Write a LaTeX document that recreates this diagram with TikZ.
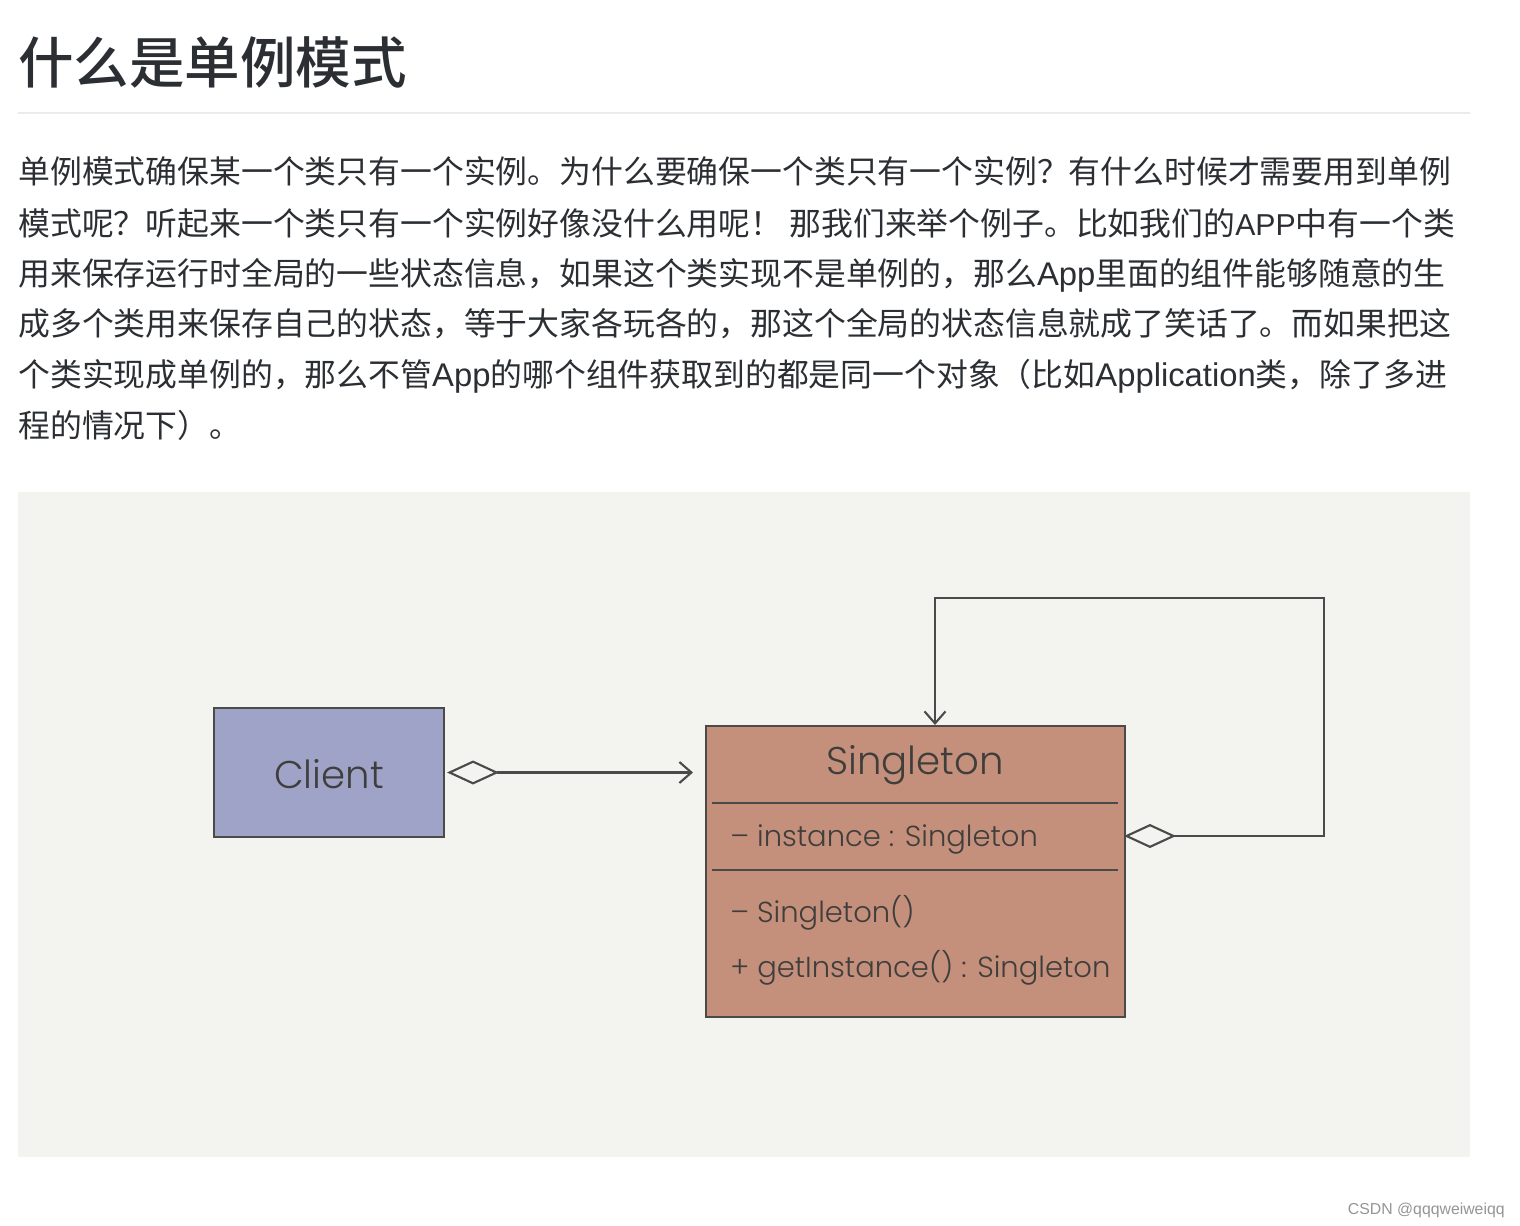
\documentclass[tikz,border=0pt]{standalone}
\usepackage{fontspec}
\usetikzlibrary{arrows.meta}
\setmainfont{Noto Sans CJK SC}
\newfontfamily\titrefont{Noto Sans CJK SC Medium}
\newfontfamily\handfont{Poppins Light}
\newfontfamily\markfont{Liberation Sans}
\newfontfamily\latfont[Scale=1.03]{Liberation Sans}
\newfontfamily\capfont[Scale=0.95]{Liberation Sans}
\definecolor{fondgris}{HTML}{F3F4F0}
\definecolor{bleuclient}{HTML}{9FA3C8}
\definecolor{rougeclasse}{HTML}{C4907B}
\definecolor{trait}{HTML}{4A4A48}
\definecolor{plume}{HTML}{403E3C}
\definecolor{encre}{HTML}{2B2F33}
\begin{document}
\begin{tikzpicture}[x=0.02cm,y=-0.02cm]
        \tikzstyle{ligne}=[anchor=base west,inner sep=0pt,text=encre,font=\fontsize{18.12pt}{22pt}\selectfont]
        \tikzstyle{classe}=[draw=trait,line width=1.2pt,inner sep=0pt]
        \tikzstyle{membre}=[anchor=base west,inner sep=0pt,text=plume,font=\handfont\fontsize{16.5pt}{20pt}\selectfont]
        \tikzstyle{nom}=[anchor=base,inner sep=0pt,text=plume,font=\handfont\fontsize{22pt}{26pt}\selectfont]
        \tikzstyle{lien}=[draw=trait,line width=1.2pt,{Diamond[open,length=1.04cm,width=0.48cm]}-{Straight Barb[length=0.24cm,width=0.42cm]}]
        \useasboundingbox (0,0) rectangle (1520,1226);
        \fill[fondgris] (18,492) rectangle (1470,1157);
        \node[anchor=base west,inner sep=0pt,text=encre,font=\titrefont\fontsize{31.6pt}{36pt}\selectfont] (titre) at (18,84) {什么是单例模式};
        \draw[color=black!8,line width=1.1pt] (18,113) -- (1470,113);
        \node[ligne] (l1) at (18,184) {单例模式确保某一个类只有一个实例。为什么要确保一个类只有一个实例？有什么时候才需要用到单例};
        \node[ligne] (l2) at (18,236) {模式呢？听起来一个类只有一个实例好像没什么用呢！ 那我们来举个例子。比如我们的{\capfont APP}中有一个类};
        \node[ligne] (l3) at (18,286) {用来保存运行时全局的一些状态信息，如果这个类实现不是单例的，那么{\latfont App}里面的组件能够随意的生};
        \node[ligne] (l4) at (18,336) {成多个类用来保存自己的状态，等于大家各玩各的，那这个全局的状态信息就成了笑话了。而如果把这};
        \node[ligne] (l5) at (18,386) {个类实现成单例的，那么不管{\latfont App}的哪个组件获取到的都是同一个对象（比如{\latfont Application}类，除了多进};
        \node[ligne] (l6) at (18,437.5) {程的情况下）。};
        \node[classe,fill=bleuclient,minimum width=4.6cm,minimum height=2.58cm] (client) at (329,772.5) {};
        \node[classe,fill=rougeclasse,minimum width=8.38cm,minimum height=5.82cm] (singleton) at (915.5,871.5) {};
        \node[nom] (nomclient) at (329,788.5) {Client};
        \node[nom] (nomsingleton) at (915,774.5) {Singleton};
        \draw[trait,line width=1.2pt] (712,803) -- (1118,803);
        \draw[trait,line width=1.2pt] (712,870) -- (1118,870);
        \node[membre] (attribut) at (730,846) {– instance : Singleton};
        \node[membre] (constructeur) at (730,922) {– Singleton()};
        \node[membre] (methode) at (730,977) {+ getInstance() : Singleton};
        \coordinate (sortie) at (1124,836);
        \coordinate (coin) at (1324,598);
        \coordinate (entree) at (935,725);
        \draw[lien,shorten <=0.04cm,shorten >=0.24cm] (client.east) -- (client.east -| singleton.west);
        \draw[lien] (sortie) -| (coin) -| (entree);
        \node[anchor=base east,inner sep=0pt,text=black!42,font=\markfont\fontsize{9pt}{11pt}\selectfont] (marque) at (1505,1214) {CSDN @qqqweiweiqq};
    \end{tikzpicture}
\end{document}
